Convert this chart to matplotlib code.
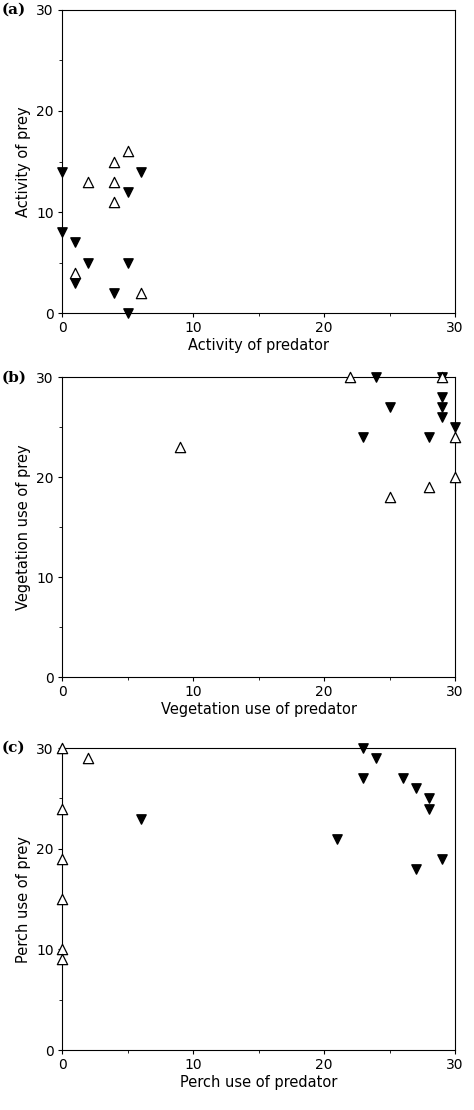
import matplotlib
matplotlib.use("Agg")
import matplotlib.pyplot as plt

a_open_x = [2, 4, 4, 4, 5, 1, 6]
a_open_y = [13, 15, 13, 11, 16, 4, 2]
a_fill_x = [0, 0, 1, 1, 2, 4, 5, 5, 5, 6]
a_fill_y = [14, 8, 7, 3, 5, 2, 0, 5, 12, 14]

b_open_x = [22, 9, 25, 28, 30, 30, 29]
b_open_y = [30, 23, 18, 19, 24, 20, 30]
b_fill_x = [24, 29, 23, 25, 28, 29, 29, 29, 30]
b_fill_y = [30, 30, 24, 27, 24, 28, 27, 26, 25]

c_open_x = [0, 2, 0, 0, 0, 0, 0]
c_open_y = [30, 29, 24, 19, 15, 10, 9]
c_fill_x = [6, 21, 23, 23, 24, 26, 27, 28, 28, 27, 29]
c_fill_y = [23, 21, 30, 27, 29, 27, 26, 25, 24, 18, 19]

panels = [
    ("(a)", "Activity of predator", "Activity of prey", a_open_x, a_open_y, a_fill_x, a_fill_y, (0.991, 0.718)),
    ("(b)", "Vegetation use of predator", "Vegetation use of prey", b_open_x, b_open_y, b_fill_x, b_fill_y, (0.660, 0.390)),
    ("(c)", "Perch use of predator", "Perch use of prey", c_open_x, c_open_y, c_fill_x, c_fill_y, (0.326, 0.054)),
]

fig = plt.figure(figsize=(4.74, 11.1), dpi=100)
for lab, xl, yl, ox, oy, fx, fy, (top, bot) in panels:
    ax = fig.add_axes([0.131, bot, 0.829, top - bot])
    ax.scatter(fx, fy, marker="v", s=45, color="black", zorder=3, clip_on=False)
    ax.scatter(ox, oy, marker="^", s=55, facecolors="white", edgecolors="black", linewidths=0.9, zorder=4, clip_on=False)
    ax.set_xlim(0, 30)
    ax.set_ylim(0, 30)
    ax.set_xticks([0, 10, 20, 30])
    ax.set_yticks([0, 10, 20, 30])
    ax.set_xticks([5, 15, 25], minor=True)
    ax.set_yticks([5, 15, 25], minor=True)
    ax.tick_params(direction="out", length=3, labelsize=10, pad=3)
    ax.tick_params(which="minor", direction="out", length=2)
    for s in ax.spines.values():
        s.set_linewidth(0.8)
    ax.set_xlabel(xl, fontsize=10.5, labelpad=2)
    ax.set_ylabel(yl, fontsize=10.5, labelpad=4)
    ax.text(-0.155, 1.0, lab, transform=ax.transAxes, fontsize=11, fontweight="bold",
            family="DejaVu Serif", ha="left", va="center")

fig.savefig("out.png", dpi=100)
